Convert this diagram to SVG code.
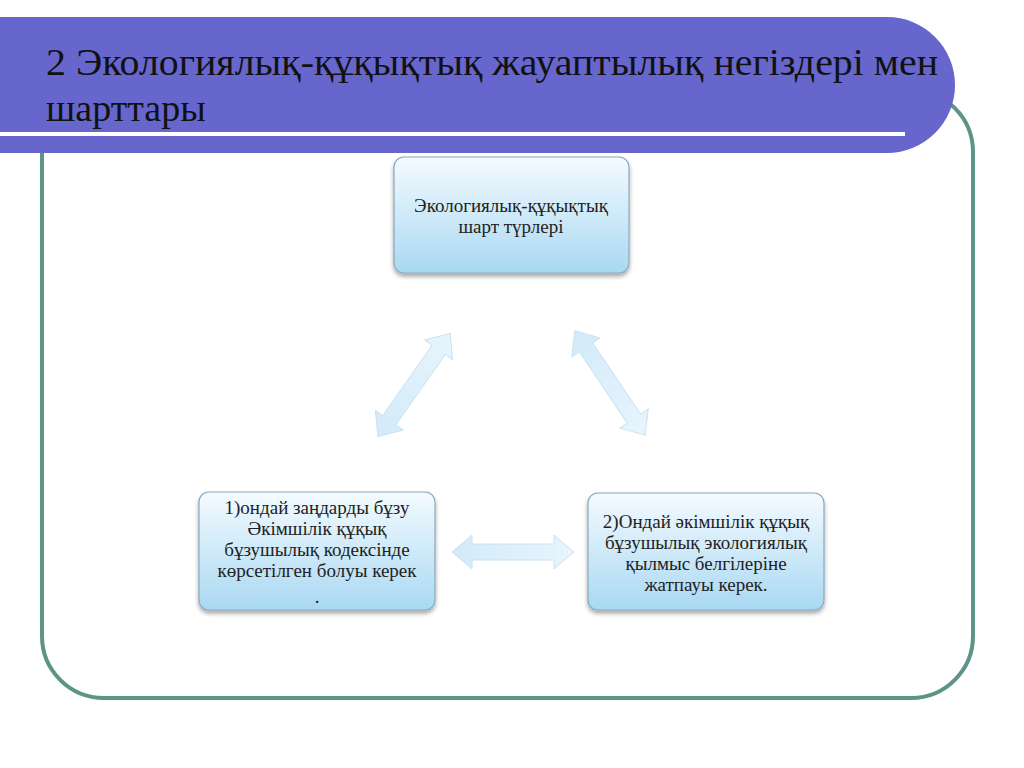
<svg xmlns="http://www.w3.org/2000/svg" width="1024" height="768" viewBox="0 0 1024 768">
<defs>
<linearGradient id="nb" x1="0" y1="0" x2="0" y2="1"><stop offset="0" stop-color="#f4fbff"/><stop offset="1" stop-color="#a9d8f2"/></linearGradient>
<linearGradient id="ab" x1="0" y1="0" x2="1" y2="0"><stop offset="0" stop-color="#d2eaf9"/><stop offset="1" stop-color="#e8f5fd"/></linearGradient>
<filter id="sh" x="-10%" y="-10%" width="120%" height="130%"><feDropShadow dx="0" dy="3" stdDeviation="2" flood-color="#000" flood-opacity="0.35"/></filter>
</defs>
<style>
.node{fill:url(#nb);stroke:#8aa8bc;stroke-width:1.2;filter:url(#sh)}
.t{font-family:"Liberation Serif",serif;font-size:19px;fill:#222;text-anchor:middle}
.arr{fill:url(#ab);stroke:#c9e2f2;stroke-width:1}
</style>
<rect width="1024" height="768" fill="#fff"/>
<rect x="42" y="90" width="931" height="608" rx="62" fill="none" stroke="#5e9488" stroke-width="4"/>
<path d="M0,17 H887 A68,68 0 0 1 887,153 H0 Z" fill="#6666cc"/>
<rect x="0" y="132" width="905" height="4" fill="#fff"/>
<text font-family="Liberation Serif,serif" font-size="38" fill="#111"><tspan x="46" y="75" textLength="892" lengthAdjust="spacingAndGlyphs">2 Экологиялық-құқықтық жауаптылық негіздері мен</tspan><tspan x="46" y="121">шарттары</tspan></text>
<g id="connectors">
<path class="arr" transform="translate(414,385) rotate(-55)" d="M-63,0 L-43,-17 L-43,-8 L43,-8 L43,-17 L63,0 L43,17 L43,8 L-43,8 L-43,17 Z"/>
<path class="arr" transform="translate(610,383) rotate(56)" d="M-63,0 L-43,-17 L-43,-8 L43,-8 L43,-17 L63,0 L43,17 L43,8 L-43,8 L-43,17 Z"/>
<path class="arr" transform="translate(513,552)" d="M-61,0 L-41,-17 L-41,-8 L41,-8 L41,-17 L61,0 L41,17 L41,8 L-41,8 L-41,17 Z"/>
</g>
<g id="n1"><rect class="node" x="394" y="157" width="235" height="116" rx="10"/>
<text class="t"><tspan x="511" y="212">Экологиялық-құқықтық</tspan><tspan x="511" y="233">шарт түрлері</tspan></text></g>
<g id="n2"><rect class="node" x="199" y="492" width="236" height="118" rx="10"/>
<text class="t"><tspan x="317" y="514">1)ондай заңдарды бұзу</tspan><tspan x="317" y="535">Әкімшілік құқық</tspan><tspan x="317" y="556">бұзушылық кодексінде</tspan><tspan x="317" y="577">көрсетілген болуы керек</tspan><tspan x="317" y="603">.</tspan></text></g>
<g id="n3"><rect class="node" x="588" y="493" width="236" height="117" rx="10"/>
<text class="t"><tspan x="706" y="528">2)Ондай әкімшілік құқық</tspan><tspan x="706" y="549">бұзушылық экологиялық</tspan><tspan x="706" y="570">қылмыс белгілеріне</tspan><tspan x="706" y="591">жатпауы керек.</tspan></text></g>
</svg>
